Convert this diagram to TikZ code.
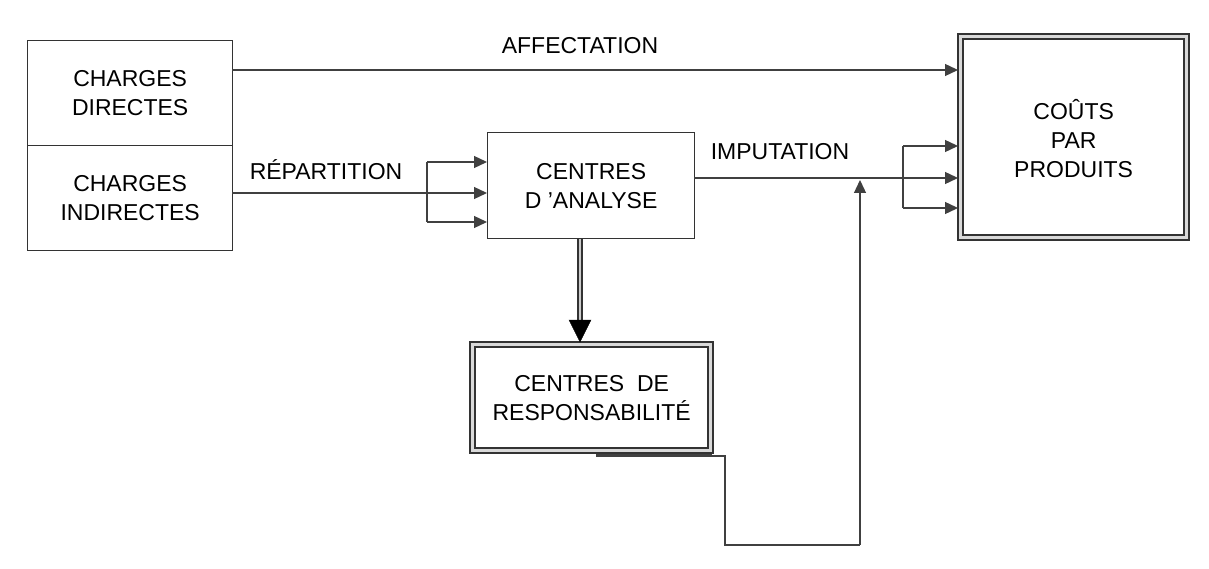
\documentclass[tikz,border=0pt]{standalone}
\usepackage{fontspec}
\setmainfont{Liberation Sans}
\usetikzlibrary{arrows.meta,positioning}
\begin{document}
\begin{tikzpicture}[x=1pt,y=-1pt,
  box/.style={draw=black!80,line width=1.3pt,inner sep=0pt,align=center,font=\fontsize{23}{29}\selectfont},
  lbl/.style={font=\fontsize{23}{28}\selectfont,inner sep=0pt},
  con/.style={draw=black!75,line width=1.3pt},
  arr/.style={con,-{Triangle[length=13pt,width=12pt]}},
  dbl/.style={draw=black!80,line width=7pt},
  dblin/.style={draw=black!15,line width=3pt}]
\useasboundingbox (0,0) rectangle (1209,569);
% left boxes
\node[box,minimum width=205,minimum height=105,anchor=north west] (cd) at (27,40) {CHARGES\\DIRECTES};
\node[box,minimum width=205,minimum height=105,anchor=north west] (ci) at (27,145) {CHARGES\\INDIRECTES};
% right box
\draw[dbl] (960,37) rectangle (1186,238);
\draw[dblin] (960,37) rectangle (1186,238);
\node[box,draw=none,minimum width=230,minimum height=205,anchor=north west] (cp) at (958,35) {CO\^UTS\\PAR\\PRODUITS};
% centres d'analyse
\node[box,minimum width=207,minimum height=106,anchor=north west] (ca) at (487,132) {CENTRES\\D 'ANALYSE};
% responsabilite
\draw[dbl] (472,344) rectangle (710,450);
\draw[dblin] (472,344) rectangle (710,450);
\node[box,draw=none,minimum width=242,minimum height=110,anchor=north west] (cr) at (470,342) {CENTRES\ \ DE\\RESPONSABILIT\'E};
% affectation
\coordinate (a1) at (232,70);
\draw[arr] (a1) -- (a1 -| cp.west);
\node[lbl] (laff) at (580,46) {AFFECTATION};
% repartition
\coordinate (r0) at (232,193);
\coordinate (rs) at (427,193);
\draw[con] (r0) -- (rs);
\draw[con] (427,162) -- (427,222);
\draw[arr] (427,162) -- (ca.west |- 0,162);
\draw[arr] (rs) -- (ca.west |- rs);
\draw[arr] (427,222) -- (ca.west |- 0,222);
\node[lbl] (lrep) at (326,170) {R\'EPARTITION};
% imputation
\coordinate (i0) at (694,178);
\coordinate (is) at (903,178);
\draw[con] (i0) -- (is);
\draw[con] (903,146) -- (903,208);
\draw[arr] (903,146) -- (cp.west |- 0,146);
\draw[arr] (is) -- (cp.west |- is);
\draw[arr] (903,208) -- (cp.west |- 0,208);
\node[lbl] (limp) at (780,152) {IMPUTATION};
% thick arrow
\draw[draw=black!80,line width=2pt,double=black!20,double distance=2.5pt] (ca.south -| 580,0) -- (580,322);
\draw[fill=black,draw=black] (569,320) -- (591,320) -- (580,342) -- cycle;
% feedback
\coordinate (f1) at (725,456);
\coordinate (f2) at (725,545);
\coordinate (f3) at (860,545);
\coordinate (f4) at (860,180);
\draw[con,line width=3pt] (596,455) -- (712,455);
\draw[con] (712,456) -- (f1) -- (f2) -- (f3);
\draw[arr] (f3) -- (f4);
\end{tikzpicture}
\end{document}
